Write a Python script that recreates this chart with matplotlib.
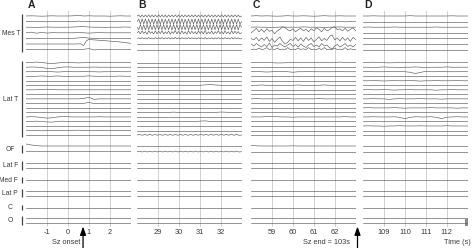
import matplotlib
matplotlib.use("Agg")
import matplotlib.pyplot as plt
import numpy as np

# ---------------------------------------------------------------- data
group_names = ["Mes T", "Lat T", "OF", "Lat F", "Med F", "Lat P", "C", "O"]
group_counts = [7, 17, 2, 2, 1, 2, 1, 2]

panel_letters = ["A", "B", "C", "D"]
panel_start_s = [-2, 28, 58, 108]
panel_ticks = [[-1, 0, 1, 2], [29, 30, 31, 32], [59, 60, 61, 62], [109, 110, 111, 112]]

onset_s = 0.72          # seizure onset marker (panel A)
sz_end_label = "Sz end = 103s"

# Trace deflections (pixels, up = positive), evenly sampled over each 5 s window.
# Channels not listed are flat.
a_traces = {
    0: [0, 0.2, 0, -0.2, 0, 0.2, 0, 0, 0, 0.2, 0.6, 0, 0.2, 0, 0, 0, -0.2, 0, 0.2, 0, 0],
    1: [0, 0, 0.2, 0, -0.2, 0, 0, 0.2, 0, 0, 0.5, 0, 0, 0.2, 0, 0, 0, 0.2, 0, 0, 0],
    2: [0, 0, -0.2, 0, 0.2, 0, 0, 0, 0, 0.2, 0.4, 0.6, 0.2, 0, 0, -0.2, 0, 0, 0, 0.2, 0],
    3: [0, 0.6, -0.4, 0.5, -0.3, 0.2, 0, 0, 0, 0, 0.5, 0, -0.3, 0, 0.2, 0, 0, 0, 0, 0, 0],
    4: [0, 0, 0, 0, 0.2, 0, 0, 0, 0, 0, 0.5, 1.0, 0.3, 0, 0, 0, 0, 0, 0, -0.2, -0.3],
    5: [0, 0, 0, 0, 0, 0, 0, 0, 0, 0, 0, 0, 0, 0, 0, 0, 0, 0, 0, 0, 0.2, 0, -1.5,
        3.0, 4.7, 4.3, 4.1, 3.9, 3.7, 3.5, 3.3, 3.1, 2.9, 2.7, 2.5, 2.3, 2.0, 1.7, 1.4, 1.0, 0.7],
    6: [0, 0, 0, 0, 0.2, 0, 0, 0, 0, 0, 0, 0.3, 1.0, -0.4, 0.2, 0, 0, 0, 0, 0, 0],
    7: [0, 0.3, 0.6, 0.3, -0.5, -0.8, -0.3, 0.2, 0.4, 0, -0.2, 0, 0.2, 0, 0, 0, 0.2, 0, 0, 0, 0],
    8: [0, 0.2, 0.1, -0.3, -1.2, -1.4, -0.6, 0.2, 0.3, 0, 0, 0, 0, 0.2, 0, 0, 0, 0, 0, 0, 0],
    9: [0, 0, 0.3, 0.5, 0.2, 0, -0.3, 0, 0.2, 0, 0, 0.3, 0, 0, -0.2, 0, 0, 0.2, 0, 0, 0],
    10: [0, -0.3, 0, 0.3, 0, 0, 0.3, 0, -0.2, 0, 0, 0, 0.4, 0, 0, 0, 0, 0, 0.2, 0, 0],
    13: [0, 0, 0, 0.3, 0.6, 0.3, 0, 0, 0, 0, 0, 0, 0, 0, 0, 0, 0, 0, 0, 0, 0],
    15: [0, 0, 0, 0, 0, 0, 0, 0, 0, 0, 0, 0.4, 1.5, -0.5, 0, 0, 0, 0, 0, 0, 0],
    16: [0, 0, 0, 0, 0, 0, 0, 0, 0, 0, 0, 0, 1.0, -0.3, 0, 0, 0, 0, 0, 0, 0],
    19: [0, 0.3, 0, -0.6, -1.2, -0.8, 0, 0.4, 0.2, 0, 0, 0, 0, 0, 0.2, 0, 0, 0, 0, 0, 0],
    20: [0, 0, 0.3, 0, -0.5, -0.6, 0, 0.3, 0, 0, 0, 0, 0, 0, 0, 0, 0, 0, 0, 0, 0],
    22: [0.3, 0, 0, -0.3, 0, 0, 0, 0, 0, 0.2, 0.3, 0, 0, 0, 0, 0, 0, 0, 0, 0, 0],
    24: [2.0, 1.0, 0.3, 0, 0, 0, 0, 0, 0, 0, 0, 0, 0, 0, 0, 0, 0, 0, 0, 0, 0],
    25: [0, 0, 0, 0, 0, 0, 0, 0, 0, 0, 0, 0, 0, 0.3, 0, 0, 0, 0, 0, 0, 0],
}

b_traces = {
    0: [0, 1.0, -1.0, 1.0, -1.0, 1.0, -1.0, 1.2, -1.2, 1.0, -1.0, 1.0, -1.0, 1.2, -1.0, 1.0,
        -1.0, 1.0, -1.2, 1.0, -1.0, 1.0, -1.0, 1.2, -1.0, 1.0, -1.0, 1.0, -1.0, 1.2, -1.0, 1.0,
        -1.0, 1.0, -1.0, 1.2, -1.0, 1.0, -1.0, 1.0, -1.0, 1.0, -1.0, 1.2, -1.0, 1.0, -1.0, 1.0,
        -1.0, 1.0, -1.0, 1.2, -1.0, 1.0, -1.0, 1.0, -1.0, 1.0, -1.0, 1.2, -1.0, 1.0, -1.0, 0],
    1: [0, 2.5, -2.5, 2.8, -2.4, 2.6, -2.6, 2.5, -2.5, 2.7, -2.4, 2.6, -2.5, 2.5, -2.6, 2.8,
        -2.5, 2.5, -2.4, 2.6, -2.5, 2.7, -2.6, 2.5, -2.5, 2.6, -2.4, 2.8, -2.5, 2.5, -2.6, 2.6,
        -2.5, 2.5, -2.4, 2.7, -2.5, 2.6, -2.6, 2.5, -2.5, 2.8, -2.4, 2.6, -2.5, 2.5, -2.6, 2.6,
        -2.5, 2.7, -2.4, 2.5, -2.5, 2.6, -2.6, 2.8, -2.5, 2.5, -2.4, 2.6, -2.5, 2.5, -2.6, 0],
    2: [0, -2.5, 2.5, -2.6, 2.4, -2.8, 2.6, -2.5, 2.5, -2.6, 2.4, -2.5, 2.5, -2.7, 2.6, -2.5,
        2.5, -2.6, 2.4, -2.5, 2.5, -2.8, 2.6, -2.5, 2.5, -2.6, 2.4, -2.5, 2.5, -2.7, 2.6, -2.5,
        2.5, -2.6, 2.4, -2.5, 2.5, -2.8, 2.6, -2.5, 2.5, -2.6, 2.4, -2.5, 2.5, -2.7, 2.6, -2.5,
        2.5, -2.6, 2.4, -2.5, 2.5, -2.8, 2.6, -2.5, 2.5, -2.6, 2.4, -2.5, 2.5, -2.7, 2.6, 0],
    3: [0, 1.5, -1.0, 2.0, -0.8, 1.2, -1.5, 2.2, -0.6, 1.0, -1.2, 2.0, -1.0, 1.6, -0.8, 2.2,
        -1.2, 1.0, -0.8, 1.8, -1.4, 1.2, -0.6, 2.4, -1.0, 1.4, -1.2, 2.0, -0.8, 1.0, -1.4, 2.2,
        -1.0, 1.6, -0.8, 1.2, -1.2, 2.0, -0.6, 1.4, -1.0, 2.4, -1.2, 1.0, -0.8, 1.8, -1.4, 1.2,
        -0.6, 2.2, -1.0, 1.4, -1.2, 2.0, -0.8, 1.0, -1.4, 2.2, -1.0, 1.6, -0.8, 1.2, -1.2, 0],
    4: [0, 0.6, -0.5, 0.8, -0.4, 0.6, -0.6, 0.9, -0.4, 0.5, -0.6, 0.8, -0.5, 0.7, -0.4, 0.9,
        -0.5, 0.6, -0.4, 0.8, -0.6, 0.6, -0.4, 1.0, -0.5, 0.6, -0.6, 0.8, -0.4, 0.5, -0.6, 0.9,
        -0.5, 0.7, -0.4, 0.6, -0.6, 0.8, -0.4, 0.6, -0.5, 1.0, -0.6, 0.5, -0.4, 0.8, -0.6, 0.6,
        -0.4, 0.9, -0.5, 0.6, -0.6, 0.8, -0.4, 0.5, -0.6, 0.9, -0.5, 0.7, -0.4, 0.6, -0.6, 0],
    23: [0, 0.6, -0.3, 0.6, -0.3, 0.7, -0.3, 0.6, -0.3, 0.6, -0.3, 0.7, -0.3, 0.6, -0.3, 0.6,
         -0.3, 0.7, -0.3, 0.6, -0.3, 0.6, -0.3, 0.7, -0.3, 0.9, -0.3, 0.8, -0.3, 0.9, -0.3, 0.8,
         -0.3, 0.9, -0.3, 0.8, -0.3, 0.9, -0.3, 0.8, -0.3, 0],
    25: [0, 0.5, -0.3, 0.6, -0.3, 0.5, -0.3, 0.6, -0.3, 0.5, -0.3, 0.6, -0.3, 0.5, -0.3, 0.6,
         -0.3, 0.5, -0.3, 0.6, -0.3, 0.5, -0.3, 0.6, -0.3, 0.5, -0.3, 0.6, -0.3, 0.5, -0.3, 0.6,
         -0.3, 0.5, -0.3, 0.6, -0.3, 0.5, -0.3, 0.6, -0.3, 0],
    12: [0, 0, 0, 0, 0, 0, 0, 0, 0, 0, 0, 0, 0, 0.4, 0.8, 0.3, 0, 0, 0, 0, 0],
    18: [0, 0, 0, 0, 0, 0, 0, 0.3, 0, 0, 0, 0, 0, 0, 0, 0, 0.4, 0.2, 0, 0, 0],
    20: [0, 0, 0, 0, 0, 0, 0, 0, 0, 0, 0, 0, 0.3, 0.6, 0, 0, 0, 0, 0, 0, 0],
}

c_traces = {
    0: [0, 0.3, 0, 0.2, 0, -0.2, 0, 0.3, 0, 0, 0.2, 0, -0.2, 0, 0.3, 0, 0, 0.2, 0, 0, 0],
    1: [0, 0, 0.2, 0, 0, 0.3, 0, 0, -0.2, 0, 0, 0.2, 0, 0, 0, 0.2, 0, 0, -0.2, 0, 0],
    2: [0, 0.2, 0, 0, -0.3, 0, 0.2, 0, 0, 0, 0.3, 0, 0, 0, -0.2, 0, 0, 0.3, 0, 0, 0],
    3: [0, 2.0, 4.5, 1.0, 3.5, 0.5, 4.0, 1.5, 2.5, -1.0, 2.0, 3.5, 6.0, 5.0, 3.0, 2.0, 4.0, 1.0,
        3.0, 4.5, 2.0, 3.5, 1.0, 4.0, 2.0, 5.0, 3.5, 1.0, 4.5, 2.0, 3.0, 5.5, 6.0, 3.0, 4.0, 2.0,
        4.5, 1.5, 3.5, 5.0, 2.0],
    4: [0, -1.5, 1.0, -2.5, 0.5, -2.0, 1.5, -3.0, 0, -4.0, -1.0, 1.5, -3.0, -5.5, -4.0, -1.0,
        -2.0, 1.0, -2.5, 0.5, -3.0, 1.0, -2.0, 0.5, -3.5, -1.0, 1.5, -2.5, 0, -2.0, 2.0, 3.5,
        -1.5, 0.5, -2.5, 1.0, -2.0, 0.5, -3.0, 1.0, -1.0],
    5: [0, -2.0, 0.5, -1.5, -3.0, -0.5, -2.5, 1.0, -3.5, -1.0, -2.0, 0.5, -1.5, -3.0, -1.0,
        0.5, -2.5, -0.5, -3.0, 0, -2.0, -3.5, -1.0, 0.5, -2.5, -1.0, -3.0, 0.5, -2.0, -1.0,
        -3.5, -5.0, -2.0, -0.5, -3.0, -1.5, 0.5, -2.5, -1.0, -3.0, -0.5],
    6: [0, 0.5, 0, 1.5, 0, 0.5, 2.0, 0, 0.8, 0, 1.5, 0, 0.5, 0, 2.0, 0, 0.5, 0, 1.5, 0, 0.8,
        0, 2.0, 0, 0.5, 0, 1.2, 0, 2.0, 0, 0.5, 0, 1.5, 0, 0.5, 0, 2.0, 0, 0.8, 0, 0],
    7: [0, 0.2, 0.4, 0.2, 0, -0.3, -0.2, 0, 0.2, 0, 0, 0, 0.2, 0, 0, 0, 0.3, 0.6, 0.3, 0, 0],
    9: [0, 0.3, 0, -0.3, 0, 0.4, 0.2, 0, -0.5, 0, 0, 0.2, 0, 0, 0, 0, 0, 0.3, 0, 0, 0],
    12: [0, 0, 0.3, 0, 0, -0.4, 0, 0, 0, 0.3, 0, 0, 0, 0, 0.4, 0, 0, 0, 0, 0, 0],
    15: [0, 0.3, 0, 0, 0, 0, 0.4, 0.2, 0, 0, 0, 0, 0, 0.3, 0, 0, 0, 0, 0, 0, 0],
    19: [0, 0, 0, 0.4, 0.6, 0.2, 0, 0, -0.3, 0, 0, 0, 0, 0, 0, 0, 0, 0, 0.3, 0, 0],
    24: [0.5, 0.2, 0, 0, 0, 0, 0, 0, 0.2, 0, 0, 0, 0, 0, 0, 0, 0, 0, 0, 0, 0],
}

d_traces = {
    0: [0, 0, 0.2, 0, 0, 0, 0, 0, 0, 0.3, 0, 0, 0, 0, 0, 0, 0, 0.2, 0, 0, 0],
    2: [0, 0.2, 0, 0, 0, 0, 0.2, 0, 0, 0, 0, 0, 0, 0, 0.2, 0, 0, 0, 0, 0, 0],
    7: [0, 0.3, 0.5, 0.2, 0, -0.2, 0, 0.3, 0.2, 0, 0, 0.3, 0.5, 0.2, 0, 0, 0, 0.3, 0, 0, 0],
    8: [0, 0, -0.3, 0, 0.3, 0, 0, -0.3, 0, 0, 0.3, 0, -0.3, 0, 0, 0, 0.3, 0, 0, 0, 0],
    9: [0, 0.3, 0, 0, 0, 0.2, 0, 0.3, 0, -0.5, -1.8, -0.6, 0.3, 0, 0, 0.3, 0, 0, 0, 0.2, 0],
    11: [0, 0, 0.3, 0, -0.2, 0, 0.2, 0, 0, 0.3, 0, -0.3, 0, 0, 0.4, 0, 0, 0, 0.2, 0, 0],
    13: [0, 0.2, 0, 0, 0.4, 0, -0.3, 0, 0, 0.3, 0, 0, 0, 0, -0.4, 0, 0, 0.3, 0, 0, 0],
    15: [0, 0, 0.3, 0, 0, -0.5, 0, 0.2, 0, 0, 0, 0.4, 0, 0, 0, -0.3, 0, 0, 0, 0, 0],
    17: [0, 0.3, 0, 0, 0, 0, 0.3, 0, -0.3, 0, 0, 0, 0, 0.3, 0, 0, 0, 0, -0.3, 0, 0],
    19: [0, 0, 0.2, 0, 0, 0, 0.2, -0.4, -1.8, -0.4, 0.2, 0, 0, 0.2, -0.4, -1.6, -0.3, 0, 0.2, 0, 0],
    21: [0, 0.2, 0, 0, -0.3, 0, 0, 0.3, 0, 0, 0, 0.2, 0, 0, 0, 0, 0.3, 0, 0, 0, 0],
}

panel_traces = [a_traces, b_traces, c_traces, d_traces]

# ---------------------------------------------------------------- layout
W, H = 474, 248
row_first = [16.0, 62.7, 146.0, 162.7, 179.7, 190.7, 207.5, 217.7]
row_step = [5.6, 4.52, 5.7, 5.6, 0.0, 5.3, 0.0, 5.6]
label_right = [21.0, 18.0, 15.0, 18.0, 18.0, 18.0, 13.0, 13.5]
panel_left_px = [26.2, 137.1, 251.1, 363.1]
px_per_s = 20.9
panel_width_px = 5 * px_per_s
grid_top, grid_bottom = 11.0, 226.0
tick_y = 233.0
trace_color = "#5a5a5a"
grid_color = "#c9c9c9"
text_color = "#3a3a3a"
font = "Liberation Sans"
label_size = 4.9

baselines = []
group_spans = []
for first, step, n in zip(row_first, row_step, group_counts):
    rows = [first + i * step for i in range(n)]
    baselines.extend(rows)
    group_spans.append((rows[0], rows[-1]))

fig = plt.figure(figsize=(W / 100, H / 100), dpi=100)
fig.patch.set_facecolor("white")

# labels column with group brackets
lab = fig.add_axes([0, 0, 1, 1])
lab.set_xlim(0, W)
lab.set_ylim(H, 0)
lab.axis("off")
for name, (y0, y1), xr in zip(group_names, group_spans, label_right):
    span = y1 - y0
    pad = 2.0 if span > 20 else (1.3 if span > 0 else 2.8)
    lab.plot([22.3, 22.3], [y0 - pad, y1 + pad], color="#444444", lw=0.9,
             solid_capstyle="butt")
    lab.text(xr, (y0 + y1) / 2 + 0.3, name, ha="right", va="center", fontsize=label_size,
             family=font, color=text_color)

for k, (letter, t0, ticks, traces) in enumerate(
        zip(panel_letters, panel_start_s, panel_ticks, panel_traces)):
    ax = fig.add_axes([panel_left_px[k] / W, 0, panel_width_px / W, 1])
    ax.set_xlim(t0, t0 + 5)
    ax.set_ylim(H, 0)
    ax.axis("off")
    for t in ticks:
        ax.plot([t, t], [grid_top, grid_bottom], color=grid_color, lw=0.6, zorder=1)
        ax.text(t, tick_y, str(t), ha="center", va="center", fontsize=5.3,
                family=font, color=text_color)
    for ch, base in enumerate(baselines):
        vals = traces.get(ch, [0, 0])
        tt = np.linspace(t0, t0 + 5, len(vals))
        ax.plot(tt, base - np.asarray(vals, dtype=float), color=trace_color, lw=0.45,
                zorder=2)
    ax.text(t0 + 0.05, 5.5, letter, ha="left", va="center", fontsize=7.5,
            fontweight="bold", family=font, color="#222222")

# annotations along the time axis
ann = lab
onset_x = panel_left_px[0] + (onset_s - panel_start_s[0]) * px_per_s
ann.text(onset_x - 17, 242, "Sz onset", ha="center", va="center", fontsize=5.3,
         family=font, color=text_color)
ann.annotate("", xy=(onset_x, 226.5), xytext=(onset_x, 248),
             arrowprops=dict(arrowstyle="-|>,head_length=0.5,head_width=0.18",
                             color="black", lw=0.9, shrinkA=0, shrinkB=0))
end_x = 357.5
ann.text(end_x - 7, 242, sz_end_label, ha="right", va="center", fontsize=5.3,
         family=font, color=text_color)
ann.annotate("", xy=(end_x, 226.5), xytext=(end_x, 248),
             arrowprops=dict(arrowstyle="-|>,head_length=0.5,head_width=0.18",
                             color="black", lw=0.9, shrinkA=0, shrinkB=0))
ann.text(471, 242, "Time (s)", ha="right", va="center", fontsize=5.3,
         family=font, color=text_color)
ann.add_patch(plt.Rectangle((465, 219), 3.2, 7, color="#8a8a8a", lw=0))

fig.savefig("out.png", dpi=100, facecolor="white")
